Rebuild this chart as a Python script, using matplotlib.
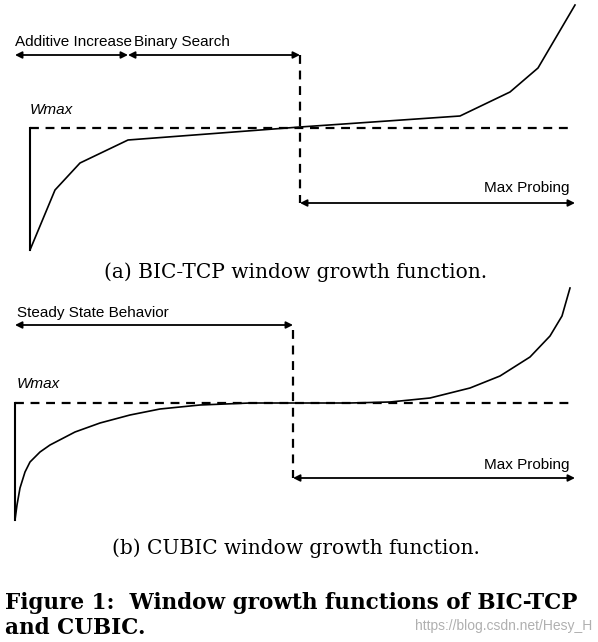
import matplotlib
matplotlib.use("Agg")
import matplotlib.pyplot as plt

# ── Diagram data (pixel-space units of the original figure) ──────────────────
W, H = 598, 642
bic_x = [30, 55, 80, 128, 300, 460, 510, 538, 575]
bic_y = [250, 190, 163, 140, 127, 116, 92, 68, 5]
bic_wmax = 128
cub_x = [15, 17, 20, 25, 30, 40, 50, 75, 100, 130, 160, 200, 250, 300, 350,
         390, 430, 470, 500, 530, 550, 562, 570]
cub_y = [520, 505, 488, 472, 462, 452, 445, 432, 423, 415, 409, 405, 403, 403,
         403, 402, 398, 388, 376, 357, 336, 316, 288]
cub_wmax = 403

fig = plt.figure(figsize=(W / 100, H / 100), dpi=100, facecolor="white")
ax = fig.add_axes([0, 0, 1, 1])
ax.set_xlim(0, W)
ax.set_ylim(H, 0)
ax.axis("off")

SANS = "Liberation Sans"
SERIF = "DejaVu Serif"

def arrow(x0, x1, y):
    ax.annotate("", xy=(x0, y), xytext=(x1, y),
                arrowprops=dict(arrowstyle="<|-|>", color="black", lw=1.3,
                                mutation_scale=10, shrinkA=0, shrinkB=0))

# ── Panel (a): BIC-TCP ───────────────────────────────────────────────────────
ax.plot(bic_x, bic_y, color="black", lw=1.2)
ax.plot([30, 30], [bic_wmax, 250], color="black", lw=1.5)
ax.plot([30, 570], [bic_wmax, bic_wmax], color="black", lw=1.6, ls=(0, (4, 3)))
ax.plot([300, 300], [55, 203], color="black", lw=1.6, ls=(0, (4, 3)))
arrow(15, 128, 55)
arrow(128, 300, 55)
arrow(300, 575, 203)
ax.text(15, 42, "Additive Increase", fontsize=11, family=SANS, va="center")
ax.text(134, 42, "Binary Search", fontsize=11, family=SANS, va="center")
ax.text(570, 188, "Max Probing", fontsize=11, family=SANS, va="center", ha="right")
ax.text(30, 110, "Wmax", fontsize=11, family=SANS, style="italic", va="center")
ax.text(296, 272, "(a) BIC-TCP window growth function.", fontsize=14.5,
        family=SERIF, ha="center", va="center")

# ── Panel (b): CUBIC ─────────────────────────────────────────────────────────
ax.plot(cub_x, cub_y, color="black", lw=1.2)
ax.plot([15, 15], [cub_wmax, 520], color="black", lw=1.5)
ax.plot([15, 570], [cub_wmax, cub_wmax], color="black", lw=1.6, ls=(0, (4, 3)))
ax.plot([293, 293], [330, 478], color="black", lw=1.6, ls=(0, (4, 3)))
arrow(15, 293, 325)
arrow(293, 575, 478)
ax.text(17, 313, "Steady State Behavior", fontsize=11, family=SANS, va="center")
ax.text(570, 465, "Max Probing", fontsize=11, family=SANS, va="center", ha="right")
ax.text(17, 384, "Wmax", fontsize=11, family=SANS, style="italic", va="center")
ax.text(296, 548, "(b) CUBIC window growth function.", fontsize=14.5,
        family=SERIF, ha="center", va="center")

# ── Figure caption ───────────────────────────────────────────────────────────
ax.text(5, 603, "Figure 1:  Window growth functions of BIC-TCP", fontsize=15.5,
        family=SERIF, weight="bold", va="center")
ax.text(5, 628, "and CUBIC.", fontsize=15.5, family=SERIF, weight="bold", va="center")
ax.text(592, 626, "https://blog.csdn.net/Hesy_H", fontsize=10, family=SANS,
        color="#b0b0b0", ha="right", va="center")

fig.savefig("out.png", dpi=100, facecolor="white")
